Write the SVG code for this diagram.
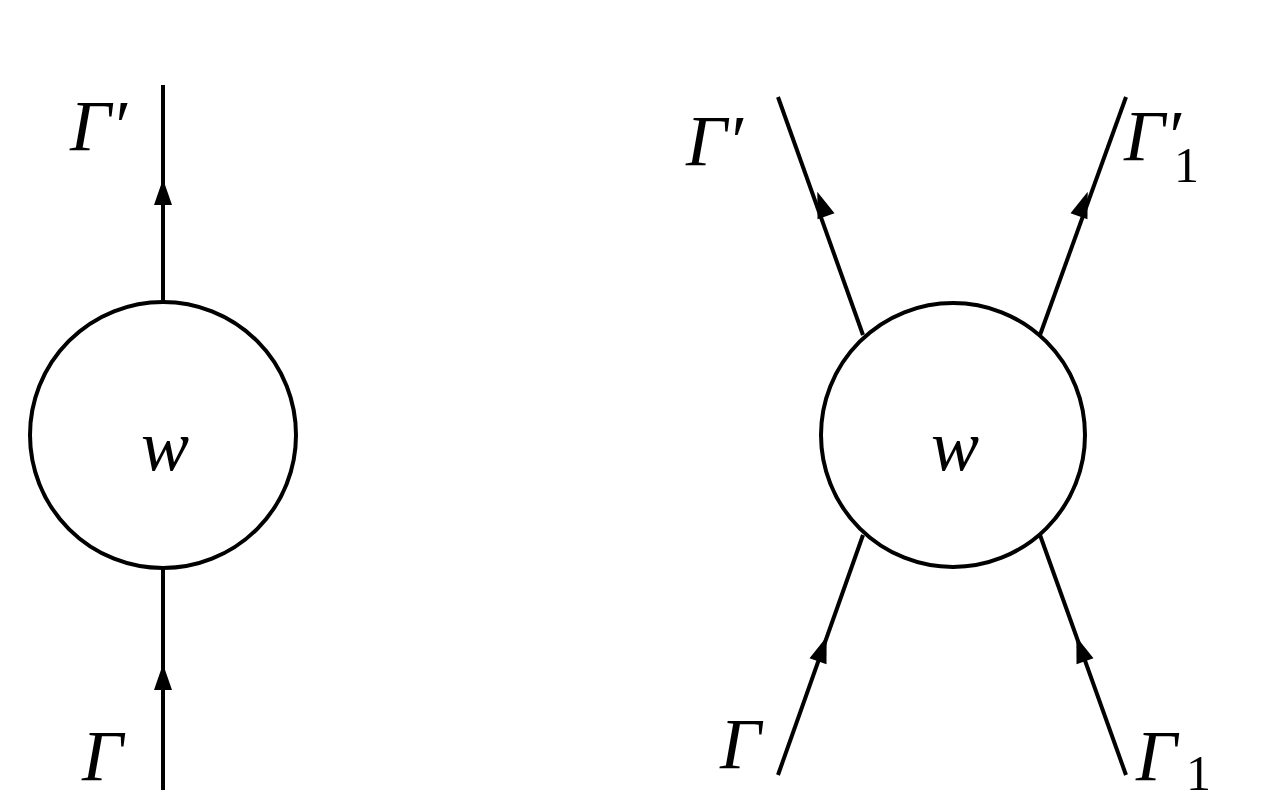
<svg xmlns="http://www.w3.org/2000/svg" width="1264" height="799" viewBox="0 0 1264 799">
<style>
.l{stroke:#000;stroke-width:4;fill:none}
.t{font-family:"Liberation Serif",serif;font-style:italic;font-size:72px}
.s{font-family:"Liberation Serif",serif;font-size:50px}
</style>
<defs><path id="ah" d="M-9,12L0,-14L9,12z"/></defs>
<rect width="1264" height="799" fill="#fff"/>
<g id="connectors">
<line class="l" x1="163" y1="85" x2="163" y2="302"/>
<line class="l" x1="163" y1="568" x2="163" y2="790"/>
<line class="l" x1="863" y1="335" x2="778" y2="97"/>
<line class="l" x1="1040" y1="335" x2="1126" y2="97"/>
<line class="l" x1="863" y1="535" x2="778" y2="775"/>
<line class="l" x1="1040" y1="535" x2="1126" y2="775"/>
<use href="#ah" transform="translate(163,193)"/>
<use href="#ah" transform="translate(163,678)"/>
<use href="#ah" transform="translate(822,205) rotate(-19.6)"/>
<use href="#ah" transform="translate(1083,205) rotate(19.6)"/>
<use href="#ah" transform="translate(822,650) rotate(19.5)"/>
<use href="#ah" transform="translate(1081,650) rotate(-19.5)"/>
</g>
<g id="node1"><circle class="l" cx="163" cy="435" r="133"/><text class="t" x="165" y="470" text-anchor="middle" font-size="115">w</text></g>
<g id="node2"><circle class="l" cx="953" cy="435" r="132"/><text class="t" x="955" y="470" text-anchor="middle" font-size="115">w</text></g>
<g id="labels">
<text class="t" x="70" y="150">Γ′</text>
<text class="t" x="82" y="780">Γ</text>
<text class="t" x="686" y="165">Γ′</text>
<text class="t" x="1124" y="160">Γ′</text><text class="s" x="1174" y="182">1</text>
<text class="t" x="720" y="768">Γ</text>
<text class="t" x="1136" y="780">Γ</text><text class="s" x="1186" y="790">1</text>
</g>
</svg>
